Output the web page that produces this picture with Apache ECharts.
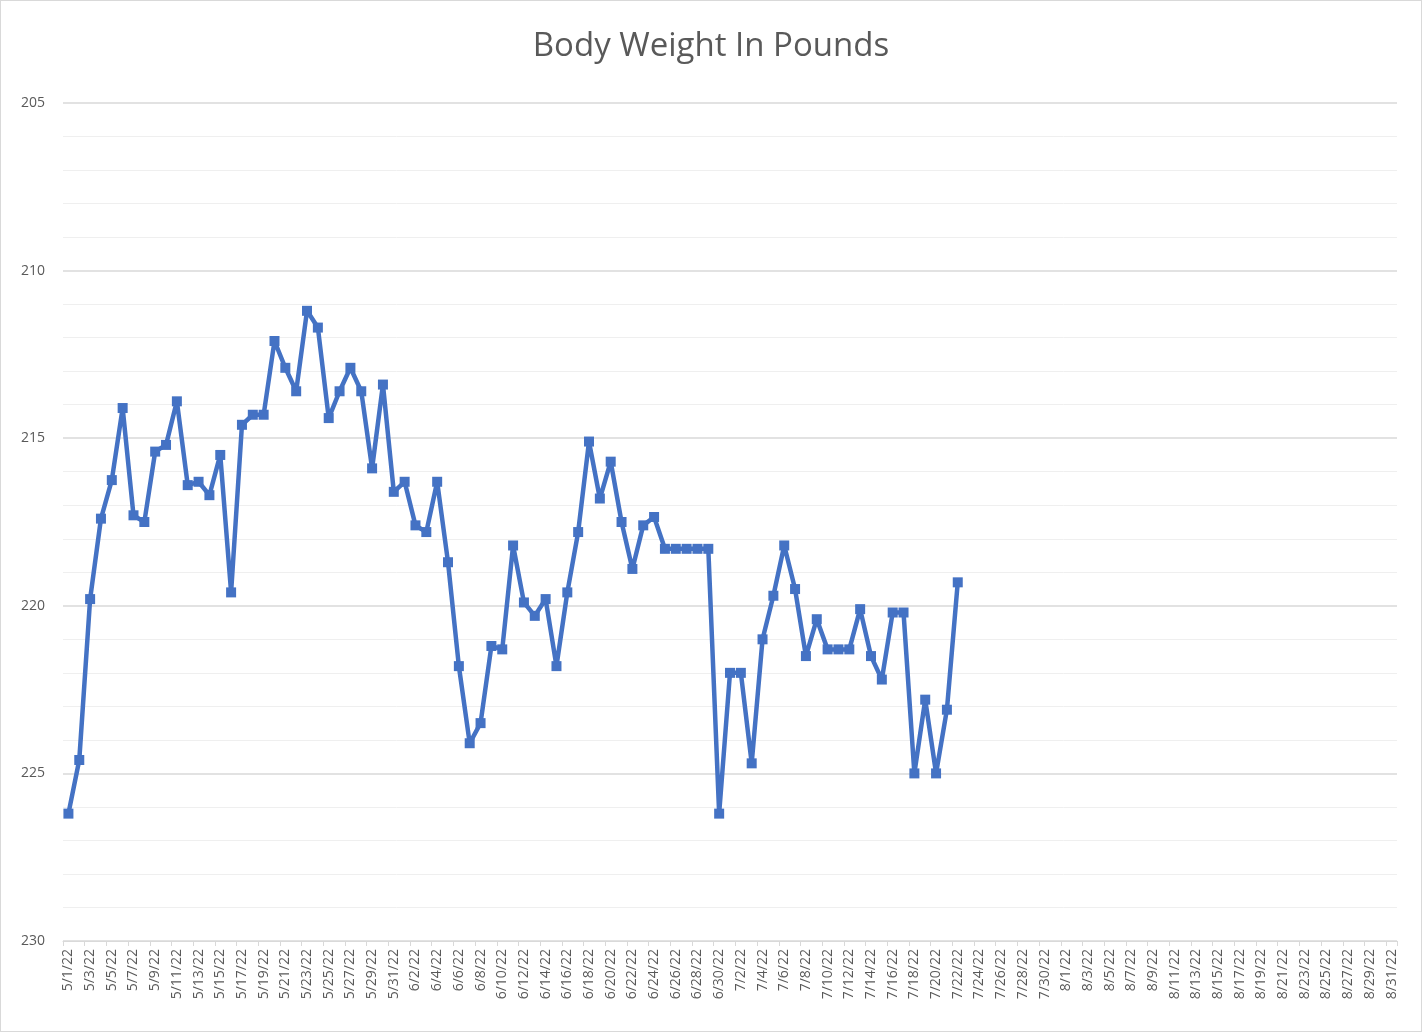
<!DOCTYPE html>
<html><head><meta charset="utf-8">
<script src="https://cdn.jsdelivr.net/npm/echarts@6/dist/echarts.min.js"></script>
<style>html,body{margin:0;padding:0;background:#fff}#c{width:1420px;height:1030px;border:1px solid #d9d9d9}</style>
</head><body><div id="c"></div>
<script>
const weights = [226.2,224.6,219.8,217.4,216.25,214.1,217.3,217.5,215.4,215.2,
213.9,216.4,216.3,216.7,215.5,219.6,214.6,214.3,214.3,212.1,
212.9,213.6,211.2,211.7,214.4,213.6,212.9,213.6,215.9,213.4,
216.6,216.3,217.6,217.8,216.3,218.7,221.8,224.1,223.5,221.2,
221.3,218.2,219.9,220.3,219.8,221.8,219.6,217.8,215.1,216.8,
215.7,217.5,218.9,217.6,217.35,218.3,218.3,218.3,218.3,218.3,
226.2,222,222,224.7,221,219.7,218.2,219.5,221.5,220.4,
221.3,221.3,221.3,220.1,221.5,222.2,220.2,220.2,225,222.8,
225,223.1,219.3];
const months = [[5,31],[6,30],[7,31],[8,31]];
const dates = [];
months.forEach(([m,n])=>{for(let d=1;d<=n;d++)dates.push(m+'/'+d+'/22');});
const series = dates.map((_,i)=> i<weights.length ? weights[i] : null);
const chart = echarts.init(document.getElementById('c'));
chart.setOption({
  title:{text:'Body Weight In Pounds',left:'center',top:24,textStyle:{fontFamily:'"Open Sans", sans-serif',fontSize:33,fontWeight:'normal',color:'#595959'}},
  grid:{left:62,right:24,top:102,bottom:90},
  xAxis:{type:'category',data:dates,boundaryGap:true,
    axisLine:{lineStyle:{color:'#d9d9d9'}},axisTick:{show:true,interval:1,lineStyle:{color:'#d9d9d9'}},
    axisLabel:{interval:1,rotate:90,color:'#595959',fontSize:14,fontFamily:'"Open Sans", sans-serif'},splitLine:{show:false}},
  yAxis:{type:'value',inverse:true,min:205,max:230,interval:5,
    axisLine:{show:false},axisTick:{show:false},
    axisLabel:{color:'#595959',fontSize:14,fontFamily:'"Open Sans", sans-serif',margin:18},
    splitLine:{lineStyle:{color:'#d9d9d9',width:1.5}},
    minorTick:{show:false,splitNumber:5},minorSplitLine:{show:true,lineStyle:{color:'#efefef'}}},
  series:[{type:'line',data:series,symbol:'rect',symbolSize:10,showAllSymbol:true,showSymbol:true,connectNulls:false,
    lineStyle:{color:'#4472C4',width:4.5},itemStyle:{color:'#4472C4'}}]
});
</script></body></html>
